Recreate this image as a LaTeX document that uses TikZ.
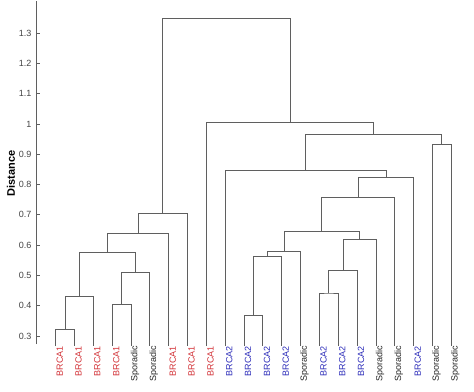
\documentclass[tikz,border=0pt]{standalone}
\usepackage{fontspec}
\setmainfont{Liberation Sans}
\usetikzlibrary{calc}
\usepackage{xcolor}
\definecolor{redLeaf}{RGB}{210,50,55}
\definecolor{blueLeaf}{RGB}{45,45,185}
\definecolor{blackLeaf}{RGB}{35,35,35}
\definecolor{treeGray}{RGB}{95,95,95}

% join two clusters at a given distance
\newcommand{\mergeat}[4]{%
  \path ($(#2)!.5!(#3)$) coordinate (#1x);
  \coordinate (#1) at (#1x |- 0,#4);
  \draw[link] (#2) |- (#1) -| (#3);
}

\begin{document}
\begin{tikzpicture}[
    x=1pt, y=303pt,
    link/.style={draw=treeGray, line width=0.9pt},
    axisline/.style={draw=treeGray, line width=0.8pt},
    leaflabel/.style={rotate=90, anchor=east, inner sep=0pt, yshift=-4pt, font=\fontsize{9}{9}\selectfont},
    ticklabel/.style={anchor=east, inner sep=0pt, text=blackLeaf!85, font=\fontsize{9}{9}\selectfont}
]
\useasboundingbox (0,0.1185) rectangle (474,1.409);

% axis
\draw[axisline] (36,0.2736) -- (36,1.405);
\foreach \v in {0.3,0.4,0.5,0.6,0.7,0.8,0.9,1,1.1,1.2,1.3} {
  \draw[axisline] (36,\v) -- ++(3.5,0);
  \node[ticklabel] (tick\v) at (31.5,\v) {\v};
}
\node[rotate=90, font=\bfseries\fontsize{11}{11}\selectfont] (ylab) at (11,0.836) {Distance};

% leaves
\foreach \lab/\col [count=\i] in {BRCA1/redLeaf, BRCA1/redLeaf, BRCA1/redLeaf, BRCA1/redLeaf,
    Sporadic/blackLeaf, Sporadic/blackLeaf, BRCA1/redLeaf, BRCA1/redLeaf, BRCA1/redLeaf,
    BRCA2/blueLeaf, BRCA2/blueLeaf, BRCA2/blueLeaf, BRCA2/blueLeaf, Sporadic/blackLeaf,
    BRCA2/blueLeaf, BRCA2/blueLeaf, BRCA2/blueLeaf, Sporadic/blackLeaf, Sporadic/blackLeaf,
    BRCA2/blueLeaf, Sporadic/blackLeaf, Sporadic/blackLeaf} {
  \coordinate (l\i) at ({55.7+(\i-1)*18.84}, 0.267);
  \node[leaflabel, text=\col] (t\i) at (l\i) {\lab};
}

% BRCA1 cluster
\mergeat{mA}{l1}{l2}{0.323}
\mergeat{mB}{mA}{l3}{0.431}
\mergeat{mC}{l4}{l5}{0.405}
\mergeat{mD}{mC}{l6}{0.509}
\mergeat{mE}{mB}{mD}{0.575}
\mergeat{mF}{mE}{l7}{0.639}
\mergeat{mG}{mF}{l8}{0.703}

% BRCA2 cluster
\mergeat{mH}{l11}{l12}{0.368}
\mergeat{mI}{mH}{l13}{0.564}
\mergeat{mJ}{mI}{l14}{0.578}
\mergeat{mK}{l15}{l16}{0.442}
\mergeat{mL}{mK}{l17}{0.518}
\mergeat{mM}{mL}{l18}{0.620}
\mergeat{mN}{mJ}{mM}{0.646}
\mergeat{mO}{mN}{l19}{0.757}
\mergeat{mP}{mO}{l20}{0.824}
\mergeat{mQ}{l10}{mP}{0.845}
\mergeat{mR}{l21}{l22}{0.931}
\mergeat{mS}{mQ}{mR}{0.964}
\mergeat{mT}{l9}{mS}{1.005}

% root
\mergeat{mU}{mG}{mT}{1.347}
\end{tikzpicture}
\end{document}
